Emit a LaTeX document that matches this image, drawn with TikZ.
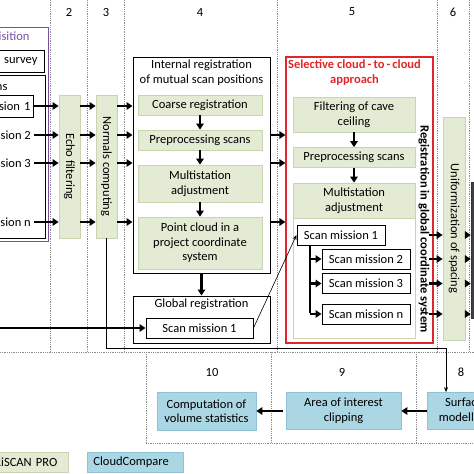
\documentclass[tikz,border=0pt]{standalone}
\usepackage{fontspec}
\setmainfont{Carlito}
\usepackage{tikz}
\usetikzlibrary{arrows.meta, positioning, calc}

\definecolor{verde}{HTML}{E4EBD4}
\definecolor{verdeborde}{HTML}{C8D5AE}
\definecolor{azul}{HTML}{ABD6E3}
\definecolor{azulborde}{HTML}{8EC3D6}
\definecolor{rojo}{HTML}{E0262B}
\definecolor{morado}{HTML}{7A4FA3}
\newcommand{\tamano}{\fontsize{12.5}{14.5}\selectfont}

\begin{document}
\begin{tikzpicture}[x=1pt, y=-1pt, font=\tamano,
  verdebox/.style={draw=verdeborde, fill=verde, line width=0.8pt, align=center, inner sep=1pt},
  azulbox/.style={draw=azulborde, fill=azul, line width=0.8pt, align=center, inner sep=1pt},
  caja/.style={draw, line width=1pt},
  flecha/.style={-{Triangle[length=6pt,width=7.5pt]}, line width=2.6pt},
  fina/.style={-{Stealth[length=5pt,width=4pt]}, line width=0.6pt},
  division/.style={black!45, densely dotted, line width=0.8pt}]

\useasboundingbox (0,0) rectangle (474,474);
\clip (0,0) rectangle (474,474);

% Columnas
\foreach \x in {50,87,124,277,437,469}
  \draw[division] (\x,0) -- (\x,352);
\draw[division] (0,352) -- (474,352);
\foreach \x in {146,271,416}
  \draw[division] (\x,352) -- (\x,443);
\draw[division] (146,443) -- (474,443);

\node (n2) at (69,12) {2};
\node (n3) at (106,12) {3};
\node (n4) at (200,12) {4};
\node (n5) at (352,12) {5};
\node (n6) at (453,12) {6};
\node (n10) at (212,372) {10};
\node (n9) at (342,372) {9};
\node (n8) at (461,372) {8};

% Columna 1 (adquisicion)
\node[draw=morado, line width=1pt, minimum width=148pt, minimum height=214pt] (adq) at (-26,134) {};
\node[morado, anchor=east] (adqt) at (33,37) {Acquisition};
\node[caja, anchor=east, minimum height=22pt, text width=130pt, align=right, inner xsep=7pt] (survey) at (45,61) {survey};
\node[caja, minimum width=145pt, minimum height=163pt] (scans) at (-27.5,156.5) {};
\node[anchor=east] (scanst) at (11,86) {Scan missions};
\node[caja, anchor=east, minimum height=22pt, text width=125pt, align=right, inner xsep=3pt] (sm1l) at (34,106) {Scan mission 1};
\node[anchor=east, inner xsep=3pt] (sm2l) at (34,135) {Scan mission 2};
\node[anchor=east, inner xsep=3pt] (sm3l) at (34,163) {Scan mission 3};
\node[anchor=east, inner xsep=3pt] (smnl) at (34,222) {Scan mission n};

% Columnas 2 y 3
\node[verdebox, minimum width=21pt, minimum height=143pt] (echo) at (69.5,166.5) {};
\node[rotate=-90] (echot) at (echo) {Echo filtering};
\node[verdebox, minimum width=21pt, minimum height=143pt] (normals) at (106.5,166.5) {};
\node[rotate=-90] (normalst) at (normals) {Normals computing};

% Columna 4
\node[caja, minimum width=137pt, minimum height=216pt] (intreg) at (201.5,165) {};
\node[align=center, below=0pt of intreg.north] (intregt) {Internal registration\\of mutual scan positions};
\node[verdebox, minimum width=124pt, minimum height=20pt] (coarse) at (200,105) {Coarse registration};
\node[verdebox, minimum width=124pt, minimum height=20pt] (prep4) at (200,140) {Preprocessing scans};
\node[verdebox, minimum width=124pt, minimum height=37pt] (multi4) at (200,183.5) {Multistation\\adjustment};
\node[verdebox, minimum width=124pt, minimum height=52pt] (pcloud) at (200,243) {Point cloud in a\\project coordinate\\system};

\node[caja, minimum width=137pt, minimum height=47pt] (globreg) at (201.5,319.5) {};
\node[below=0pt of globreg.north] (globregt) {Global registration};
\node[caja, minimum width=107pt, minimum height=20pt] (gsm1) at (199.5,328) {Scan mission 1};
\coordinate (gsrc) at (-10,328);

% Columna 5
\node[draw=rojo, line width=1.3pt, minimum width=147pt, minimum height=286pt] (selective) at (359.5,200) {};
\node[rojo, font=\tamano\bfseries, align=center, below=0pt of selective.north, xshift=-5pt] (selt) {Selective cloud\,-\,to\,-\,cloud\\approach};
\node[verdebox, minimum width=122pt, minimum height=35pt] (filt) at (354,114.5) {Filtering of cave\\ceiling};
\node[verdebox, minimum width=122pt, minimum height=20pt] (prep5) at (354,157.5) {Preprocessing scans};
\node[draw=verdeborde, fill=white, line width=0.8pt, minimum width=122pt, minimum height=155pt] (multi5) at (354,260.5) {};
\node[verdebox, minimum width=122pt, minimum height=35pt, below=0pt of multi5.north] (multi5t) {Multistation\\adjustment};
\node[caja, minimum width=88pt, minimum height=20pt] (rsm1) at (341,235) {Scan mission 1};
\node[caja, minimum width=88pt, minimum height=20pt] (rsm2) at (366,259) {Scan mission 2};
\node[caja, minimum width=88pt, minimum height=20pt] (rsm3) at (366,283.5) {Scan mission 3};
\node[caja, minimum width=88pt, minimum height=20pt] (rsmn) at (366,314) {Scan mission n};
\coordinate (tronco) at (310,245);
\node[rotate=-90, font=\tamano\bfseries] (regglob) at (424,229) {Registration in global coordinate system};

% Columnas 6 y 7
\node[verdebox, minimum width=22pt, minimum height=223pt] (unif) at (454,228.5) {};
\node[rotate=-90] (unift) at (unif) {Uniformization of spacing};
\node[fill=black!75, draw=black!80, minimum width=20pt, minimum height=136pt] (col7) at (481,250) {};

% Fila inferior
\node[azulbox, minimum width=99pt, minimum height=38pt] (comp) at (206.5,411) {Computation of\\volume statistics};
\node[azulbox, minimum width=115pt, minimum height=37pt] (area) at (343.5,411) {Area of interest\\clipping};
\node[azulbox, minimum width=74pt, minimum height=37pt] (surf) at (464,411) {Surface\\modelling};
\coordinate (codo) at (446,348);

% Leyenda
\node[verdebox, anchor=west, minimum height=20pt, text width=68pt, align=left, inner xsep=6pt] (riscan) at (-12,462) {RiSCAN PRO};
\node[azulbox, anchor=west, minimum height=20pt, text width=84pt, align=left, inner xsep=6pt] (cc) at (87,462) {CloudCompare};

% Flechas
\foreach \s in {sm1l,sm2l,sm3l,smnl} {
  \draw[flecha] (\s.east) -- (\s -| echo.west);
  \draw[flecha] (\s -| echo.east) -- (\s -| normals.west);
  \draw[flecha] (\s -| normals.east) -- (\s -| intreg.west);
}
\foreach \s in {sm2l,sm3l,smnl}
  \draw[flecha] (\s -| intreg.east) -- (\s -| selective.west);
\draw[flecha] (coarse.south) -- (prep4.north);
\draw[flecha] (prep4.south) -- (multi4.north);
\draw[flecha] (multi4.south) -- (pcloud.north);
\draw[flecha] (intreg.south) -- (globreg.north);
\draw[flecha] (gsrc) -- (gsm1.west);
\draw[fina] (gsm1.east) -- (rsm1.west);

\draw[flecha] (filt.south) -- (prep5.north);
\draw[flecha] (prep5.south) -- (multi5.north);
\draw[line width=2.6pt] (rsm1.south -| tronco) -- ([yshift=1.3pt]rsmn.west -| tronco);
\foreach \s in {rsm2,rsm3,rsmn}
  \draw[flecha] (\s -| tronco) -- (\s.west);
\foreach \s in {rsm1,rsm2,rsm3,rsmn} {
  \draw[flecha] ($(\s -| selective.east)+(-5,0)$) -- (\s -| unif.west);
  \draw[flecha] (\s -| unif.east) -- (\s -| col7.west);
}

\draw[fina] (normals.south) |- (codo) -- (codo |- surf.north);
\draw[flecha] (surf.west) -- (area.east);
\draw[flecha, shorten <=3pt] (area.west) -- (comp.east);

\end{tikzpicture}
\end{document}
